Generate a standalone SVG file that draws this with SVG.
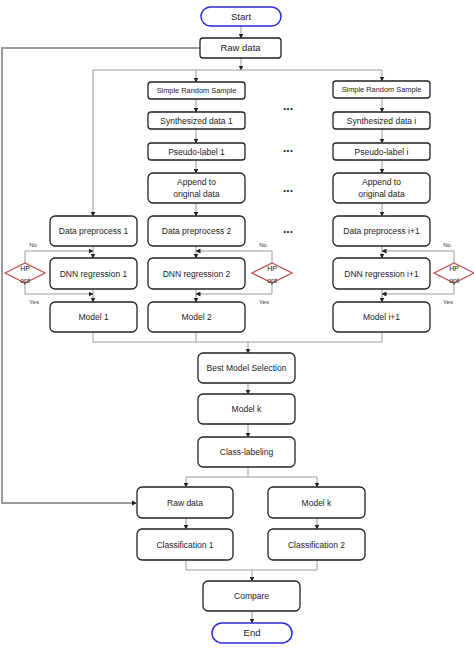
<svg xmlns="http://www.w3.org/2000/svg" width="474" height="651" viewBox="0 0 474 651">
<defs>
<marker id="ah" markerWidth="5" markerHeight="5" refX="4.5" refY="2.5" orient="auto" markerUnits="userSpaceOnUse"><path d="M0,0 L5,2.5 L0,5 z" fill="#222"/></marker>
</defs>
<style>
.box{fill:#fff;stroke:#222;stroke-width:1.3}
.term{fill:#fff;stroke:#2b2bd6;stroke-width:1.5}
.dia{fill:#fff;stroke:#c0504d;stroke-width:1.3}
.c{fill:none;stroke:#9a9a9a;stroke-width:1}
.ca{fill:none;stroke:#9a9a9a;stroke-width:1;marker-end:url(#ah)}
.t{font-family:"Liberation Sans",Arial,sans-serif;font-size:8.5px;fill:#222;text-anchor:middle}
.s{font-family:"Liberation Sans",Arial,sans-serif;font-size:7.4px;fill:#222;text-anchor:middle}
.l{font-family:"Liberation Sans",Arial,sans-serif;font-size:6px;fill:#333;text-anchor:middle}
.d{font-family:"Liberation Sans",Arial,sans-serif;font-size:12px;font-weight:bold;fill:#222;text-anchor:middle}
</style>
<rect width="474" height="651" fill="#fff"/>
<g id="connectors">
<path class="ca" d="M241,26V38"/>
<path class="ca" d="M241,58V70"/>
<path class="c" d="M93,70H382"/>
<path class="ca" d="M93,70V216"/>
<path class="ca" d="M196,70V82"/>
<path class="ca" d="M382,70V81"/>
<path class="ca" d="M196,99V112"/>
<path class="ca" d="M196,129V143"/>
<path class="ca" d="M196,160V173"/>
<path class="ca" d="M196,203V216"/>
<path class="ca" d="M196,246V258"/>
<path class="ca" d="M196,289V302"/>
<path class="ca" d="M382,98V112"/>
<path class="ca" d="M382,129V143"/>
<path class="ca" d="M382,160V173"/>
<path class="ca" d="M382,203V216"/>
<path class="ca" d="M382,246V258"/>
<path class="ca" d="M382,289V302"/>
<path class="ca" d="M93,246V258"/>
<path class="ca" d="M93,289V302"/>
<path class="ca" d="M25,263V251H93"/>
<path class="ca" d="M25,283V294H93"/>
<path class="ca" d="M272,263V251H196"/>
<path class="ca" d="M272,283V294H196"/>
<path class="ca" d="M454,263V251H382"/>
<path class="ca" d="M454,283V294H382"/>
<path class="c" d="M93,332V342H382V332M196,332V342"/>
<path class="ca" d="M248,342V353"/>
<path class="ca" d="M248,383V394"/>
<path class="ca" d="M248,424V437"/>
<path class="c" d="M248,467V477M186,477H317"/>
<path class="ca" d="M186,477V487"/>
<path class="ca" d="M317,477V487"/>
<path class="ca" d="M186,518V529"/>
<path class="ca" d="M317,518V529"/>
<path class="c" d="M186,560V570H317V560"/>
<path class="ca" d="M252,570V581"/>
<path class="ca" d="M252,611V623"/>
<path class="c" style="stroke-width:2" d="M200,48H2V503H133"/>
<path d="M132,500.5L137,503L132,505.5z" fill="#222"/>
</g>
<g id="start"><rect class="term" x="201" y="7" width="80" height="19" rx="9.5"/><text class="t" style="font-size:9.5px" x="241" y="19.8">Start</text></g>
<g id="raw"><rect class="box" x="200" y="38" width="81" height="20" rx="3"/><text class="t" style="font-size:9.5px" x="240.5" y="51.3">Raw data</text></g>
<g id="srs1"><rect class="box" x="148" y="82" width="97" height="17" rx="3"/><text class="s" x="196.5" y="93.3">Simple Random Sample</text></g>
<g id="srsi"><rect class="box" x="333" y="81" width="97" height="17" rx="3"/><text class="s" x="381.5" y="92.3">Simple Random Sample</text></g>
<g id="syn1"><rect class="box" x="148" y="112" width="97" height="17" rx="3"/><text class="t" x="196.5" y="123.5">Synthesized data 1</text></g>
<g id="syni"><rect class="box" x="333" y="112" width="97" height="17" rx="3"/><text class="t" x="381.5" y="123.5">Synthesized data i</text></g>
<g id="ps1"><rect class="box" x="148" y="143" width="97" height="17" rx="3"/><text class="t" x="196.5" y="154.5">Pseudo-label 1</text></g>
<g id="psi"><rect class="box" x="333" y="143" width="97" height="17" rx="3"/><text class="t" x="381.5" y="154.5">Pseudo-label i</text></g>
<g id="app1"><rect class="box" x="148" y="173" width="97" height="30" rx="5"/><text class="t" x="196.5" y="185">Append to</text><text class="t" x="196.5" y="196.5">original data</text></g>
<g id="appi"><rect class="box" x="333" y="173" width="97" height="30" rx="5"/><text class="t" x="381.5" y="185">Append to</text><text class="t" x="381.5" y="196.5">original data</text></g>
<g id="dp1"><rect class="box" x="50" y="216" width="87" height="30" rx="5"/><text class="t" x="93.5" y="234">Data preprocess 1</text></g>
<g id="dp2"><rect class="box" x="148" y="216" width="97" height="30" rx="5"/><text class="t" x="196.5" y="234">Data preprocess 2</text></g>
<g id="dpi"><rect class="box" x="333" y="216" width="97" height="30" rx="5"/><text class="t" x="381.5" y="234">Data preprocess i+1</text></g>
<g id="dnn1"><rect class="box" x="50" y="258" width="87" height="31" rx="5"/><text class="t" x="93.5" y="276.5">DNN regression 1</text></g>
<g id="dnn2"><rect class="box" x="148" y="258" width="97" height="31" rx="5"/><text class="t" x="196.5" y="276.5">DNN regression 2</text></g>
<g id="dnni"><rect class="box" x="333" y="258" width="97" height="31" rx="5"/><text class="t" x="381.5" y="276.5">DNN regression i+1</text></g>
<g id="m1"><rect class="box" x="50" y="302" width="87" height="30" rx="5"/><text class="t" x="93.5" y="320">Model 1</text></g>
<g id="m2"><rect class="box" x="148" y="302" width="97" height="30" rx="5"/><text class="t" x="196.5" y="320">Model 2</text></g>
<g id="mi"><rect class="box" x="333" y="302" width="97" height="30" rx="5"/><text class="t" x="381.5" y="320">Model i+1</text></g>
<g id="hp1"><polygon class="dia" points="5,273 25,263 45,273 25,283"/><text class="s" style="font-size:7px" x="25" y="271">HP</text><text class="s" style="font-size:7px" x="25" y="283">opt</text><text class="l" x="33" y="247">No</text><text class="l" x="34" y="304">Yes</text></g>
<g id="hp2"><polygon class="dia" points="252,273 272,263 292,273 272,283"/><text class="s" style="font-size:7px" x="272" y="271">HP</text><text class="s" style="font-size:7px" x="272" y="283">opt</text><text class="l" x="263" y="247">No</text><text class="l" x="264" y="304">Yes</text></g>
<g id="hpi"><polygon class="dia" points="434,273 454,263 474,273 454,283"/><text class="s" style="font-size:7px" x="454" y="271">HP</text><text class="s" style="font-size:7px" x="454" y="283">opt</text><text class="l" x="447" y="247">No</text><text class="l" x="448" y="304">Yes</text></g>
<g id="dots"><text class="d" x="288" y="110">...</text><text class="d" x="288" y="152">...</text><text class="d" x="288" y="192">...</text><text class="d" x="288" y="233">...</text></g>
<g id="best"><rect class="box" x="198" y="353" width="97" height="30" rx="5"/><text class="t" x="246.5" y="371">Best Model Selection</text></g>
<g id="mk"><rect class="box" x="198" y="394" width="97" height="30" rx="5"/><text class="t" x="246.5" y="412">Model k</text></g>
<g id="cl"><rect class="box" x="198" y="437" width="97" height="30" rx="5"/><text class="t" x="246.5" y="455">Class-labeling</text></g>
<g id="raw2"><rect class="box" x="137" y="487" width="96" height="31" rx="5"/><text class="t" x="185" y="505.5">Raw data</text></g>
<g id="mk2"><rect class="box" x="268" y="487" width="97" height="31" rx="5"/><text class="t" x="316.5" y="505.5">Model k</text></g>
<g id="c1"><rect class="box" x="137" y="529" width="96" height="31" rx="5"/><text class="t" x="185" y="547.5">Classification 1</text></g>
<g id="c2"><rect class="box" x="268" y="529" width="97" height="31" rx="5"/><text class="t" x="316.5" y="547.5">Classification 2</text></g>
<g id="cmp"><rect class="box" x="203" y="581" width="97" height="30" rx="5"/><text class="t" x="251.5" y="599">Compare</text></g>
<g id="end"><rect class="term" x="212" y="623" width="80" height="20" rx="10"/><text class="t" style="font-size:9.5px" x="252" y="636.3">End</text></g>
</svg>
